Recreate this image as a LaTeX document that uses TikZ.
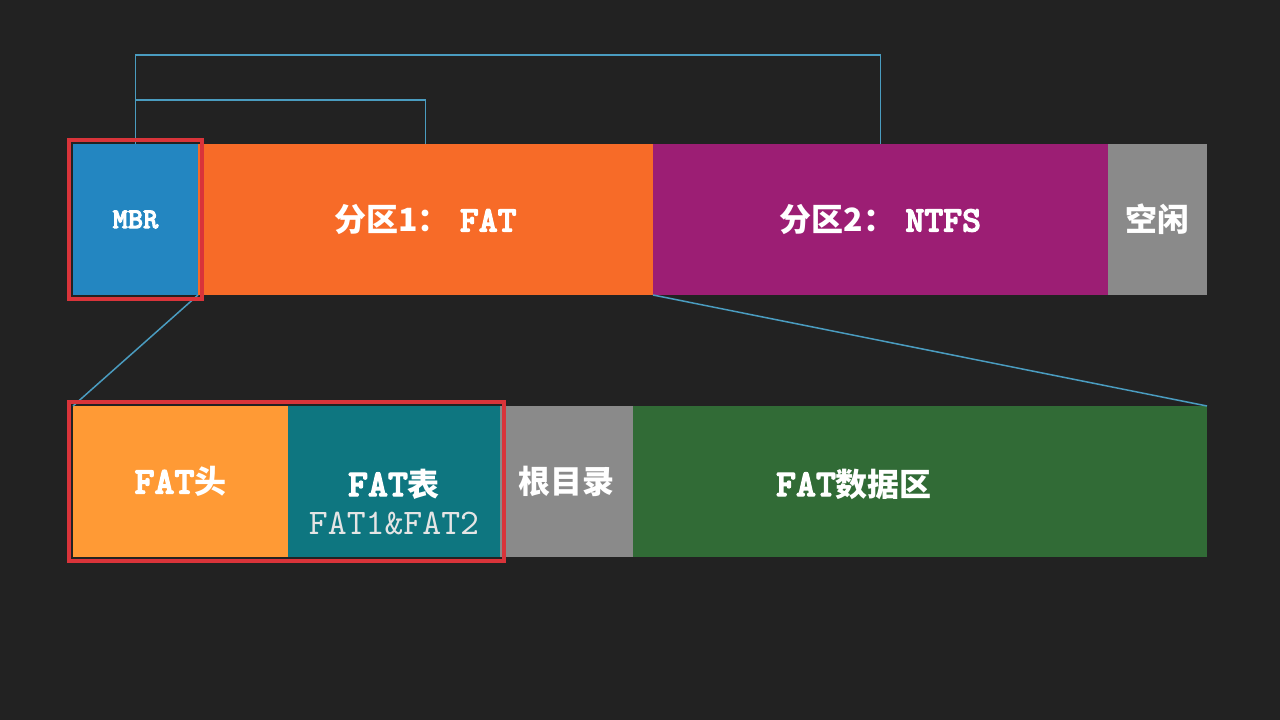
\documentclass[tikz,border=0pt]{standalone}
\usepackage{fontspec}
\usepackage{tikz}
\usetikzlibrary{fit}

\newfontfamily\cjk{Noto Sans CJK SC}
\newfontfamily\slab{lmmonolt10-bold.otf}[FakeBold=3]
\newfontfamily\slabthin{lmmono10-regular.otf}
\newcommand{\lat}[2]{{\slab\fontsize{#1}{#1}\selectfont #2}}

\definecolor{bg}{HTML}{222222}
\definecolor{mbrblue}{HTML}{2386C1}
\definecolor{fatorange}{HTML}{F76B28}
\definecolor{ntfspurple}{HTML}{9C1E74}
\definecolor{freegray}{HTML}{8A8A8A}
\definecolor{headorange}{HTML}{FF9A35}
\definecolor{tabteal}{HTML}{0E7680}
\definecolor{datagreen}{HTML}{316B36}
\definecolor{linkblue}{HTML}{4A9CC0}
\definecolor{boxred}{HTML}{D9343A}

\tikzset{
  block/.style={anchor=north west, inner sep=0pt, outer sep=0pt,
    minimum height=151pt, text=white,
    font=\cjk\bfseries\fontsize{32}{36}\selectfont},
  link/.style={draw=linkblue, line width=1.5pt},
  redbox/.style={draw=boxred, line width=4pt, inner sep=4pt},
}

\begin{document}
\begin{tikzpicture}[x=1pt, y=-1pt]
             \fill[bg] (0,0) rectangle (1280,720);
             \useasboundingbox (0,0) rectangle (1280,720);

             % disk
             \node[block, fill=mbrblue, minimum width=125pt] (mbr) at (73,144) {\lat{29}{MBR}};
             \node[block, fill=fatorange, minimum width=455pt] (part1) at (198,144) {分区1：\hspace{10pt}\lat{36}{FAT}};
             \node[block, fill=ntfspurple, minimum width=455pt] (part2) at (653,144) {分区2：\hspace{10pt}\lat{36}{NTFS}};
             \node[block, fill=freegray, minimum width=99pt] (free) at (1108,144) {空闲};

             % partition 1
             \node[block, fill=headorange, minimum width=215pt] (fathead) at (73,406) {\lat{38}{FAT}头};
             \node[block, fill=tabteal, minimum width=212pt] (fattab) at (288,406) {};
             \node[block, fill=freegray, minimum width=133pt] (rootdir) at (500,406) {根目录};
             \node[block, fill=datagreen, minimum width=574pt] (fatdata) at (633,406) {};

             \node[text=white, font=\cjk\bfseries\fontsize{32}{36}\selectfont] (fattabtxt) at (394,484) {\lat{38}{FAT}表};
             \node[text=white!90!black, font=\slabthin\fontsize{36}{36}\selectfont] (fattabsub) at (394,523) {FAT1\&FAT2};
             \node[text=white, font=\cjk\bfseries\fontsize{32}{36}\selectfont] (fatdatatxt) at (854,484) {\lat{38}{FAT}数据区};

             % pointers from MBR
             \path (mbr.north) ++(0,-89) coordinate (tap2);
             \path (mbr.north) ++(0,-44) coordinate (tap1);
             \draw[link] (mbr.north) -- (tap2) -| (part2.north);
             \draw[link] (tap1) -| (part1.north);

             % zoom lines
             \draw[link] (mbr.south east) -- (fathead.north west);
             \draw[link] (part2.south west) -- (fatdata.north east);

             \node[redbox, fit=(mbr)] (mbrbox) {};
             \node[redbox, fit=(fathead)(fattab)] (fatbox) {};
\end{tikzpicture}
\end{document}
